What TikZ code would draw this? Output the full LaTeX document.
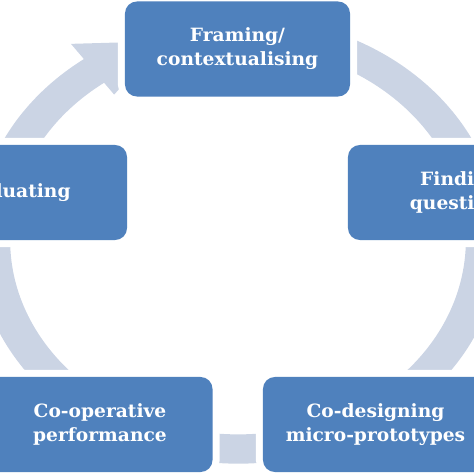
\documentclass[tikz,border=0pt]{standalone}
\usepackage{fontspec}
\setmainfont{DejaVu Serif}[FakeStretch=1.02]
\usetikzlibrary{calc}
\definecolor{cycleblue}{HTML}{4F81BD}
\definecolor{cyclering}{HTML}{CBD4E4}

\begin{document}
\begin{tikzpicture}[
        x=0.025cm,
        y=0.025cm,
        stepbox/.style={
            fill=cycleblue,
            preaction={draw=white, line width=10pt},
            rounded corners=0.3cm,
            minimum width=5.625cm,
            minimum height=2.375cm,
            inner sep=0pt,
            align=center,
            text=white,
            font=\fontsize{13}{17}\selectfont\bfseries
        }
    ]

        \useasboundingbox (0,0) rectangle (474,474);
        \clip (0,0) rectangle (474,474);

        % Kreispfeil hinter den Kaesten
        \begin{scope}[shift={(238,234)}, xscale=245, yscale=209]
            \fill[cyclering]
                (80:1.07) arc[start angle=80, end angle=-234, radius=1.07] --
                (-234:1.16) --
                (-252:1.0) --
                (-234:0.86) --
                (-234:0.93) arc[start angle=-234, end angle=80, radius=0.93] --
                cycle;
        \end{scope}

        % Kaesten
        \node[stepbox] (frame) at (237.5,425)
            {Framing/\\contextualising};

        \node[stepbox] (find) at (460.5,281.5)
            {Finding\\questions};

        \node[stepbox] (codesign) at (375.5,49.5)
            {Co-designing\\micro-prototypes};

        \node[stepbox] (coop) at (100,49.5)
            {Co-operative\\performance};

        \node[stepbox] (eval) at (14.5,281.5)
            {Evaluating};

    \end{tikzpicture}
\end{document}
